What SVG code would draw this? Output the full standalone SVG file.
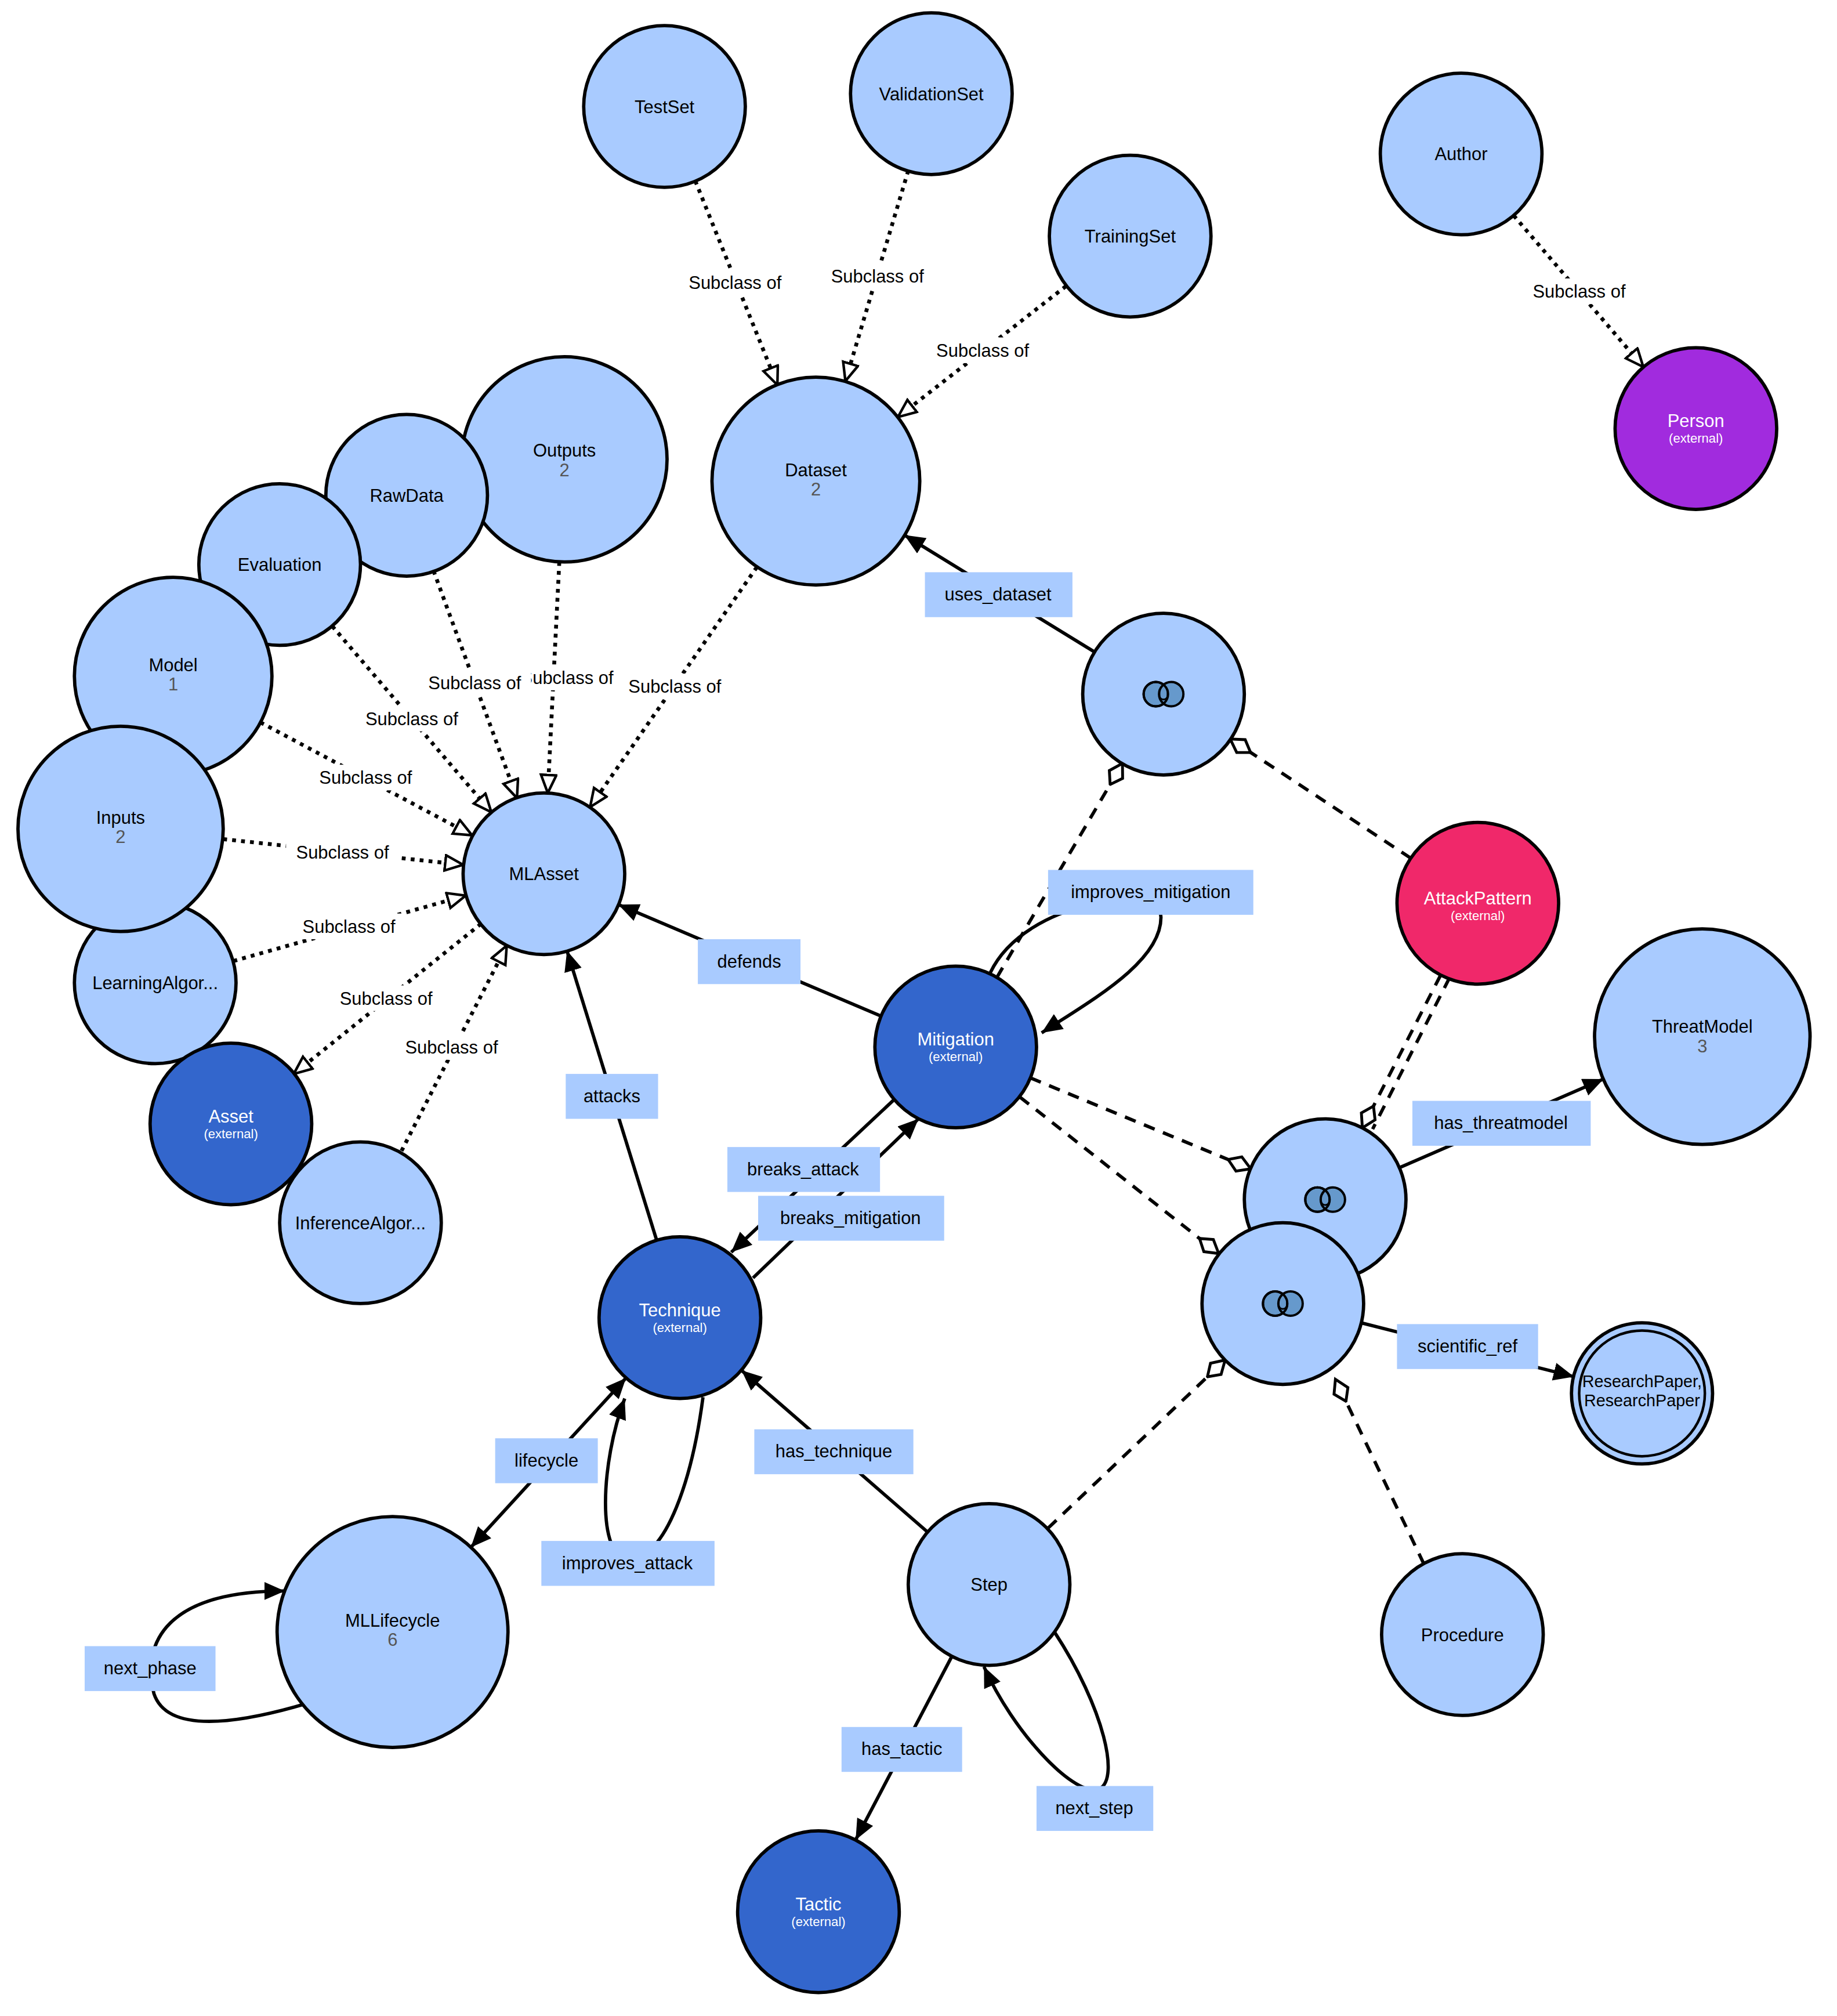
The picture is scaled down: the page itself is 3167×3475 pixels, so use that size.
<svg xmlns="http://www.w3.org/2000/svg" width="3167" height="3475" viewBox="0 0 3167 3475">
<style>
text{font-family:"Liberation Sans",Arial,sans-serif;font-size:14px;text-anchor:middle}
.n{fill:#a9cbff;stroke:#000;stroke-width:2.6}
.d{fill:#3366cc;stroke:#000;stroke-width:2.6}
.wt{fill:#fff}
.ext{font-size:10px;fill:#fff}
.cnt{fill:#555}
.sub{fill:none;stroke:#000;stroke-width:3;stroke-dasharray:3,4;marker-end:url(#tri)}
.sol{fill:none;stroke:#000;stroke-width:2.6;marker-end:url(#arr)}
.dsh{fill:none;stroke:#000;stroke-width:2.6;stroke-dasharray:9,7;marker-end:url(#dia)}
.lb{fill:#a9cbff}
.sl{fill:#fff}
.u{fill:#6699cc;stroke:#000;stroke-width:1.8}
.ut{font-size:11px}
</style>
<defs>
<marker id="tri" markerUnits="userSpaceOnUse" markerWidth="20" markerHeight="20" refX="15" refY="7" orient="auto"><path d="M1,1 L15,7 L1,13 Z" fill="#fff" stroke="#000" stroke-width="2"/></marker>
<marker id="arr" markerUnits="userSpaceOnUse" markerWidth="20" markerHeight="20" refX="16" refY="7" orient="auto-start-reverse"><path d="M0,0 L16,7 L0,14 Z" fill="#000"/></marker>
<marker id="dia" markerUnits="userSpaceOnUse" markerWidth="24" markerHeight="18" refX="20" refY="8" orient="auto"><path d="M1,8 L10,2 L20,8 L10,14 Z" fill="#fff" stroke="#000" stroke-width="2.2"/></marker>
<g id="uni"><circle class="u" cx="-6" cy="0" r="9.5"/><circle class="u" cx="6" cy="0" r="9.5"/><circle cx="-6" cy="0" r="9.5" fill="none" stroke="#000" stroke-width="1.8"/><path d="M-3.2,-3.5 V1 A3.2,3.2 0 0 0 3.2,1 V-3.5" fill="none" stroke="#000" stroke-width="1.3"/></g>
</defs>
<rect width="3167" height="3475" fill="#fff"/>
<g transform="scale(2.2116)">
<g id="connectors">
<line class="sub" x1="542" y1="141" x2="606" y2="300"/>
<line class="sub" x1="708" y1="133" x2="659" y2="297"/>
<line class="sub" x1="831" y1="223" x2="700" y2="325"/>
<line class="sub" x1="1180" y1="168" x2="1281" y2="286"/>
<line class="sub" x1="590" y1="442" x2="460" y2="629"/>
<line class="sub" x1="436" y1="438" x2="427" y2="618"/>
<line class="sub" x1="338" y1="445" x2="403" y2="622"/>
<line class="sub" x1="259" y1="488" x2="383" y2="633"/>
<line class="sub" x1="203" y1="563" x2="368" y2="651"/>
<line class="sub" x1="174" y1="654" x2="361" y2="674"/>
<line class="sub" x1="182" y1="749" x2="363" y2="698"/>
<line class="sub" x1="375" y1="720" x2="229" y2="837"/>
<line class="sub" x1="313" y1="897" x2="395" y2="737"/>
<line class="sol" x1="853" y1="508" x2="705" y2="417"/>
<line class="sol" x1="687" y1="792" x2="482" y2="705"/>
<line class="sol" x1="512" y1="967" x2="442" y2="741"/>
<line class="sol" x1="697" y1="857" x2="570" y2="976"/>
<line class="sol" x1="587" y1="996" x2="716" y2="872"/>
<path class="sol" d="M772,758 C800,700 905,690 905,715 C905,750 850,780 812,805"/>
<line class="sol" x1="1091" y1="910" x2="1250" y2="841"/>
<line class="sol" x1="1061" y1="1031" x2="1227" y2="1073"/>
<line class="sol" x1="488" y1="1074" x2="367" y2="1206" style="marker-start:url(#arr)"/>
<path class="sol" d="M548,1089 C540,1150 520,1215 490,1215 C465,1215 468,1140 487,1090"/>
<line class="sol" x1="723" y1="1194" x2="578" y2="1068"/>
<line class="sol" x1="742" y1="1291" x2="667" y2="1434"/>
<path class="sol" d="M822,1272 C860,1330 875,1390 855,1395 C835,1398 790,1350 767,1299"/>
<path class="sol" d="M238,1328 C180,1345 130,1350 120,1320 C110,1280 130,1240 222,1240"/>
<line class="dsh" x1="777" y1="762" x2="875" y2="595"/>
<line class="dsh" x1="1100" y1="669" x2="959" y2="576"/>
<line class="dsh" x1="1123" y1="760" x2="1062" y2="879"/>
<line class="dsh" x1="1130" y1="762" x2="1070" y2="880" style="marker-end:none"/>
<line class="dsh" x1="803" y1="840" x2="975" y2="911"/>
<line class="dsh" x1="795" y1="855" x2="950" y2="977"/>
<line class="dsh" x1="817" y1="1191" x2="955" y2="1060"/>
<line class="dsh" x1="1110" y1="1219" x2="1041" y2="1075"/>
<g class="sl">
<rect x="530" y="210" width="88" height="20"/><rect x="641" y="205" width="88" height="20"/><rect x="722" y="263" width="88" height="20"/><rect x="1187" y="217" width="88" height="20"/>
<rect x="482" y="525" width="88" height="20"/><rect x="398" y="518" width="88" height="20"/>
</g>
<text x="526" y="540">Subclass of</text>
<text x="442" y="533">Subclass of</text>
<g class="sl"><rect x="326" y="522" width="88" height="20"/><rect x="277" y="550" width="88" height="20"/><rect x="241" y="596" width="88" height="20"/><rect x="223" y="654" width="88" height="20"/><rect x="228" y="712" width="88" height="20"/><rect x="257" y="768" width="88" height="20"/><rect x="308" y="806" width="88" height="20"/></g>
<text x="573" y="225">Subclass of</text>
<text x="684" y="220">Subclass of</text>
<text x="766" y="278">Subclass of</text>
<text x="1231" y="232">Subclass of</text>
<text x="370" y="537">Subclass of</text>
<text x="321" y="565">Subclass of</text>
<text x="285" y="611">Subclass of</text>
<text x="267" y="669">Subclass of</text>
<text x="272" y="727">Subclass of</text>
<text x="301" y="783">Subclass of</text>
<text x="352" y="821">Subclass of</text>
<rect class="lb" x="721" y="446" width="115" height="35"/><text x="778" y="468">uses_dataset</text>
<rect class="lb" x="544" y="732" width="80" height="35"/><text x="584" y="754">defends</text>
<rect class="lb" x="441" y="837" width="72" height="35"/><text x="477" y="859">attacks</text>
<rect class="lb" x="567" y="894" width="119" height="35"/><text x="626" y="916">breaks_attack</text>
<rect class="lb" x="591" y="932" width="145" height="35"/><text x="663" y="954">breaks_mitigation</text>
<rect class="lb" x="817" y="678" width="160" height="35"/><text x="897" y="700">improves_mitigation</text>
<rect class="lb" x="1101" y="858" width="139" height="35"/><text x="1170" y="880">has_threatmodel</text>
<rect class="lb" x="1089" y="1032" width="110" height="35"/><text x="1144" y="1054">scientific_ref</text>
<rect class="lb" x="386" y="1121" width="80" height="35"/><text x="426" y="1143">lifecycle</text>
<rect class="lb" x="422" y="1201" width="135" height="35"/><text x="489" y="1223">improves_attack</text>
<rect class="lb" x="588" y="1114" width="124" height="35"/><text x="650" y="1136">has_technique</text>
<rect class="lb" x="656" y="1346" width="94" height="35"/><text x="703" y="1368">has_tactic</text>
<rect class="lb" x="808" y="1392" width="91" height="35"/><text x="853" y="1414">next_step</text>
<rect class="lb" x="66" y="1283" width="102" height="35"/><text x="117" y="1305">next_phase</text>
</g>
<g id="TestSet"><circle class="n" cx="518" cy="83" r="63"/><text x="518" y="88">TestSet</text></g>
<g id="ValidationSet"><circle class="n" cx="726" cy="73" r="63"/><text x="726" y="78">ValidationSet</text></g>
<g id="TrainingSet"><circle class="n" cx="881" cy="184" r="63"/><text x="881" y="189">TrainingSet</text></g>
<g id="Author"><circle class="n" cx="1139" cy="120" r="63"/><text x="1139" y="125">Author</text></g>
<g id="Person"><circle cx="1322" cy="334" r="63" fill="#a12bde" stroke="#000" stroke-width="2.6"/><text class="wt" x="1322" y="333">Person</text><text class="ext" x="1322" y="345">(external)</text></g>
<g id="Dataset"><circle class="n" cx="636" cy="375" r="81"/><text x="636" y="371">Dataset</text><text class="cnt" x="636" y="386">2</text></g>
<g id="Outputs"><circle class="n" cx="440" cy="358" r="80"/><text x="440" y="356">Outputs</text><text class="cnt" x="440" y="371">2</text></g>
<g id="RawData"><circle class="n" cx="317" cy="386" r="63"/><text x="317" y="391">RawData</text></g>
<g id="Evaluation"><circle class="n" cx="218" cy="440" r="63"/><text x="218" y="445">Evaluation</text></g>
<g id="Model"><circle class="n" cx="135" cy="527" r="77"/><text x="135" y="523">Model</text><text class="cnt" x="135" y="538">1</text></g>
<g id="LearningAlgorithm"><circle class="n" cx="121" cy="766" r="63"/><text x="121" y="771">LearningAlgor...</text></g>
<g id="Inputs"><circle class="n" cx="94" cy="646" r="80"/><text x="94" y="642">Inputs</text><text class="cnt" x="94" y="657">2</text></g>
<g id="Asset"><circle class="d" cx="180" cy="876" r="63"/><text class="wt" x="180" y="875">Asset</text><text class="ext" x="180" y="887">(external)</text></g>
<g id="InferenceAlgorithm"><circle class="n" cx="281" cy="953" r="63"/><text x="281" y="958">InferenceAlgor...</text></g>
<g id="MLAsset"><circle class="n" cx="424" cy="681" r="63"/><text x="424" y="686">MLAsset</text></g>
<g id="Union1"><circle class="n" cx="907" cy="541" r="63"/><use href="#uni" x="907" y="541"/></g>
<g id="AttackPattern"><circle cx="1152" cy="704" r="63" fill="#f0286a" stroke="#000" stroke-width="2.6"/><text class="wt" x="1152" y="705">AttackPattern</text><text class="ext" x="1152" y="717">(external)</text></g>
<g id="Mitigation"><circle class="d" cx="745" cy="816" r="63"/><text class="wt" x="745" y="815">Mitigation</text><text class="ext" x="745" y="827">(external)</text></g>
<g id="ThreatModel"><circle class="n" cx="1327" cy="808" r="84"/><text x="1327" y="805">ThreatModel</text><text class="cnt" x="1327" y="820">3</text></g>
<g id="Union2"><circle class="n" cx="1033" cy="935" r="63"/><use href="#uni" x="1033" y="935"/></g>
<g id="Union3"><circle class="n" cx="1000" cy="1016" r="63"/><use href="#uni" x="1000" y="1016"/></g>
<g id="ResearchPaper"><circle class="n" cx="1280" cy="1086" r="55"/><circle cx="1280" cy="1086" r="49" fill="none" stroke="#000" stroke-width="2"/><text x="1280" y="1081" style="font-size:13px">ResearchPaper,</text><text x="1280" y="1096" style="font-size:13px">ResearchPaper</text></g>
<g id="Technique"><circle class="d" cx="530" cy="1027" r="63"/><text class="wt" x="530" y="1026">Technique</text><text class="ext" x="530" y="1038">(external)</text></g>
<g id="Step"><circle class="n" cx="771" cy="1235" r="63"/><text x="771" y="1240">Step</text></g>
<g id="Procedure"><circle class="n" cx="1140" cy="1274" r="63"/><text x="1140" y="1279">Procedure</text></g>
<g id="MLLifecycle"><circle class="n" cx="306" cy="1272" r="90"/><text x="306" y="1268">MLLifecycle</text><text class="cnt" x="306" y="1283">6</text></g>
<g id="Tactic"><circle class="d" cx="638" cy="1490" r="63"/><text class="wt" x="638" y="1489">Tactic</text><text class="ext" x="638" y="1501">(external)</text></g>
</g>
</svg>
